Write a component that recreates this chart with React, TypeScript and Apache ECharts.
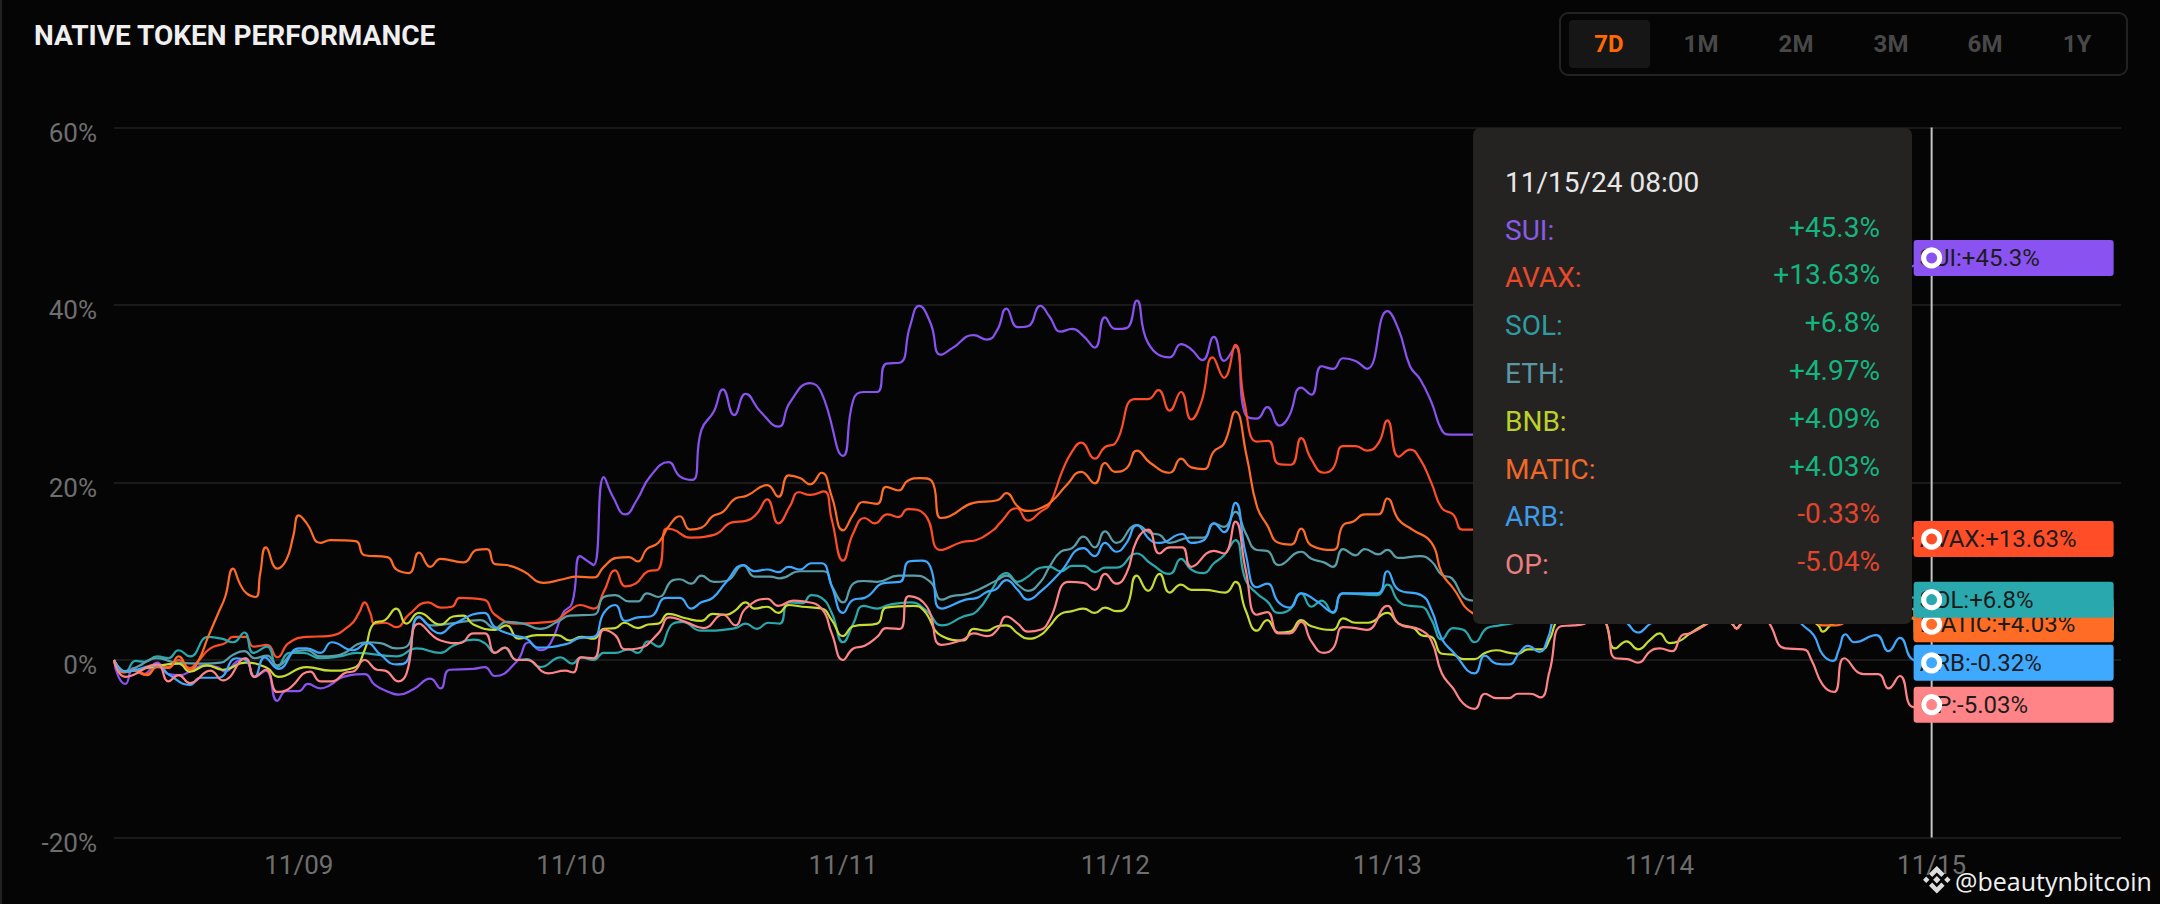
import React, { useEffect, useRef } from "react";
import * as echarts from "echarts";

// x = hours since the first sample (11/08 ~15:40), y = % performance
const SUI = [[0,0],[0.4,-1.9],[1,-2.7],[1.7,-0.9],[2.6,-1.6],[3.8,-0.3],[4.8,-1.6],[5.8,-1.7],[6.7,-1.3],[7.9,-0.6],[9.1,-0.8],[9.8,-1.3],[10.8,-0.2],[11.6,0.2],[12.4,-1.9],[13.4,-1.2],[14.4,-4.6],[15.2,-3.5],[16.3,-3.5],[17.1,-2.7],[18.2,-3.2],[19.1,-2.8],[20.2,-1.9],[22.1,-1.6],[23,-2.8],[24.4,-3.7],[25.1,-3.9],[26.4,-3.3],[27.9,-2.1],[28.8,-3.2],[29.6,-1.1],[31.7,-1],[32.7,-0.8],[33.6,-1.8],[35.5,-0.2],[36.6,2],[37.6,1.1],[38.5,1.9],[39.6,5.3],[40.4,6.4],[41.1,11.7],[41.7,11.2],[42.3,10.7],[43.2,20.6],[44,18.4],[45.1,16.4],[46.1,18],[47.3,20.7],[48.9,22.3],[49.9,20.7],[51,20.3],[51.8,25.9],[52.9,28],[53.7,30.5],[54.7,27.6],[55.7,30],[57,28],[58.6,26.3],[59.6,29],[61.4,31.2],[62.4,30.1],[64.3,23],[65.2,29.3],[66.1,30.2],[67.3,30.2],[68.1,33.4],[69.3,33.5],[70.2,37.6],[71,39.9],[72,38],[72.9,34.4],[74,35.2],[75.8,36.6],[77,36.1],[77.9,37.2],[78.7,39.6],[79.7,37.5],[80.6,37.6],[81.7,39.9],[82.5,38.7],[83.5,37],[84.5,37.3],[85.5,36.5],[86.5,35.2],[87.4,38.6],[88.3,37.3],[89.3,37.4],[90.2,40.5],[91.2,35.7],[93.1,34.1],[94.1,35.6],[95,35],[96,33.8],[97,36.4],[97.9,33.7],[98.9,35.3],[99.8,27.6],[100.8,27.2],[101.7,28.5],[102.8,26.4],[103.6,27.4],[104.7,30.7],[105.6,29.9],[106.5,33.1],[107.5,32.8],[108.4,34],[109.5,33.7],[110.5,32.8],[112.3,39.3],[113.3,37.2],[114.3,33.1],[115.2,31.6],[116.2,29],[117.1,25.9],[117.8,25.4],[119.8,25.4],[125,26],[135,28],[145,34],[155,42],[160.3,45.3]];
const AVAX = [[0,0],[0.8,-1.3],[1.7,-1.1],[2.9,-1.6],[3.8,-0.6],[4.8,-0.8],[5.7,0],[6.7,-0.9],[7.3,-0.3],[8.5,1.3],[9.8,1.9],[10.5,2.6],[11.6,2.6],[12.3,1.5],[13.5,1.7],[14.4,0.3],[15.4,1.9],[17,2.6],[18.9,2.7],[20.8,3.9],[21.6,5.3],[22.1,6.5],[22.6,5.3],[23,4.1],[23.9,4.2],[24.9,3.7],[26,5.1],[27.7,6.5],[28.8,5.9],[29.8,6],[30.5,7],[32.6,6.8],[33.6,5.1],[35.5,4.1],[38.5,4.3],[40.2,5.6],[41.1,6.2],[42.3,5.8],[43.2,7.7],[44.2,10.1],[45.1,8.3],[46,8.6],[47.1,10],[48,10.2],[48.7,14.8],[49.3,14.7],[50.8,13.8],[52.9,14.1],[54.5,15.5],[55.8,15.7],[56.7,16.5],[57.6,18.1],[58.6,15.4],[59.6,17.3],[60.4,18.9],[61.4,18.6],[62.6,19],[63.3,15.8],[64.3,11.2],[65.2,14.3],[66.2,16],[67.1,15.4],[68.2,16.4],[69.2,16.1],[70,17],[71.5,16.4],[72.9,12.4],[74.8,13.3],[76,13.5],[77.6,14.7],[78.1,15.4],[79.6,17.1],[80.6,15.7],[81.7,16.7],[82.5,17.5],[83.6,21.2],[84.5,23.5],[85.3,24.5],[86.5,22.7],[87.4,24],[88.3,24.4],[90,29.4],[91.2,29.4],[92.1,30.4],[93.1,28.1],[94.1,30.2],[95,27.1],[95.9,29.1],[96.9,34.1],[97.9,31.8],[98.9,35.5],[99.7,29],[100.8,24.6],[101.8,24.7],[102.7,22.1],[103.8,22],[104.7,25],[105.6,22.6],[106.7,21.1],[107.5,21.6],[108.4,24.1],[109.5,24.1],[110.5,23.6],[111.5,24.4],[112.3,27],[113.3,22.9],[114.3,23.7],[115.2,22.6],[116.2,19.9],[117.1,17.1],[118.1,16.4],[118.9,14.7],[119.8,14.7],[125,12],[135,13],[145,15],[155,14],[160.3,13.63]];
const SOL = [[0,0],[1,-1.3],[1.9,-0.1],[2.7,-0.2],[3.8,0.4],[4.8,0.2],[5.7,1.1],[6.7,0.4],[8.3,2.6],[9.5,2.4],[10.5,2],[11.5,3.1],[12.3,0.8],[13.5,1.5],[14.4,-0.8],[15.5,0.8],[16.7,0.8],[18.2,0.2],[19.9,0.4],[21.4,0.8],[24.9,0.4],[26.7,1.3],[28.8,0.8],[29.9,1.6],[31.7,2.3],[32.7,1.9],[33.6,0.8],[34.4,1.4],[35.5,0],[36.4,0.1],[37.6,-0.8],[39.4,0.3],[40.4,-0.4],[41.2,0.3],[42.3,0],[43.2,0.8],[44.2,0.8],[45.4,1.2],[46.2,0.8],[47.1,2.1],[48,1.5],[49.3,4.1],[50.1,4.3],[51.8,3.3],[54.8,3.6],[55.7,4.1],[56.7,3.5],[57.7,4.2],[58.7,4.1],[59.5,6.5],[60.7,6.4],[61.5,7.3],[62.4,7],[63.3,5.3],[64.3,2],[65.2,4.1],[66.1,6.1],[67.3,5.8],[68.3,6.2],[70.2,6.5],[71.7,5.5],[73,3.9],[74.9,4.9],[76.1,5.5],[77.6,8.3],[78.1,9.4],[78.7,9.8],[79.7,8.8],[80.6,9.4],[81.7,10.4],[82.5,10.5],[83.5,10],[84.5,10.6],[85.5,10.6],[86.5,9.9],[87.4,10.4],[88.4,10.4],[90.2,12],[91.4,10.9],[93.1,9.7],[94.1,11.4],[95,10.2],[96.1,9.8],[97,10.9],[97.9,11.8],[98.9,13.5],[99.8,9],[100.8,7.5],[101.7,6.6],[102.7,5.3],[103.6,5.6],[104.7,7.5],[105.6,6],[106.5,6.7],[107.5,5.3],[108.4,7.5],[111.4,7.3],[112.3,8.5],[113.3,6.6],[114.3,6.1],[115.3,6],[116.2,4.5],[117.1,2.3],[118.1,3.6],[119,3.4],[120,2],[121.1,3.6],[122.2,3.9],[123.1,4.1],[127,5],[129,9],[132,7],[140,7],[150,8],[155,7.5],[160.3,6.8]];
const ETH = [[0,0],[1,-1.3],[2,-0.8],[3.8,0.2],[5.5,-0.3],[7.9,-0.4],[9.4,-0.3],[10.5,0.6],[11.5,1],[12.4,0.2],[13.5,0.5],[14.4,-0.6],[16.1,1],[17,1.1],[18.2,0.4],[19.6,0.5],[22.3,2],[23.5,1.9],[24.9,1.3],[25.8,1.5],[26.9,4.9],[27.9,3.9],[29.6,4.1],[32.3,4.5],[33.6,3.6],[34.6,4.3],[36.1,4.1],[37.6,3.5],[39.1,4.3],[40.2,5],[42.3,5.1],[43.2,7.1],[44.2,7.3],[45.4,6.6],[46.2,6.6],[47,7.5],[48,7.1],[49.3,9],[49.9,9.1],[50.9,8.6],[51.8,9.5],[52.9,8.8],[54,8.9],[55.5,10.7],[56.5,9.4],[57.9,9.4],[58.7,9.2],[60.5,10],[62.6,10],[63.4,8.1],[64.3,6.5],[65.2,8.6],[66.1,8.9],[67.3,8.8],[69.2,9.5],[70.5,9.5],[72,8.8],[73,6.8],[73.9,7.2],[75.4,7.5],[77.9,9],[78.7,9.5],[79.7,8.5],[80.6,7.8],[81.7,8.8],[82.5,10.5],[83.5,12.2],[84.5,12.6],[85.5,13.9],[86.5,12.7],[87.4,14.5],[88.4,13.2],[90.2,15.2],[91.4,14.3],[92.2,14.1],[93.1,13.2],[94.9,13.8],[96.1,13.8],[97,15.4],[97.9,15],[98.9,16.7],[99.8,14.3],[100.8,12.4],[101.7,12.3],[102.7,10.7],[104.7,12.2],[105.6,11.4],[106.7,11],[107.5,10.5],[108.4,12.5],[109.5,11.8],[110.3,12.5],[111.5,11.9],[112.3,12.4],[113.3,11.5],[115.2,11.7],[116.2,11.1],[117.1,9.6],[118,9.2],[119,7.1],[119.8,6.7],[125,5.5],[127,6],[129,8],[132,6],[140,7],[150,6],[155,6.5],[160.3,4.97]];
const BNB = [[0,0],[1,-1.3],[2.9,-0.9],[5.7,-0.4],[6.7,-1.3],[8.2,-0.6],[9.6,-1.1],[11.6,-0.3],[13.5,-0.9],[14.5,-1.9],[17,-0.8],[19.1,-1.2],[21.1,-0.9],[22.1,1.1],[22.9,4.1],[23.9,4.5],[24.9,5.8],[25.8,4.1],[26.9,5.3],[28.8,4],[29.9,4.9],[30.8,5],[31.7,4],[33.6,3.4],[34.6,3.9],[35.7,2.4],[37.3,2.8],[39.1,2.8],[40.2,2.2],[41.2,2.6],[42.3,2.4],[43.2,3.5],[44.2,3.6],[45,4.2],[46.2,3.6],[47.1,4],[48,4.1],[48.9,5.2],[50.4,4.7],[51.8,4.4],[52.8,5.2],[54,5.1],[54.8,5.6],[55.7,6.5],[56.5,5.8],[57.6,6],[58.6,5.3],[59.5,6.2],[60.7,6],[62.4,5.8],[63.3,4.5],[64.3,2.7],[65.2,3.8],[67.3,4.1],[68.1,5.9],[70.5,6.1],[71.4,5.6],[73,2.7],[74.9,2.2],[75.8,3.5],[77,3.3],[77.9,3.8],[78.7,3.9],[79.7,3],[80.6,2.4],[81.7,2.8],[82.5,3.8],[83.5,5.2],[84.5,5.5],[85.5,5.8],[86.5,5.3],[87.4,5.9],[88.4,5.5],[89.3,6],[90.2,9.5],[91.2,7.8],[92.2,9.7],[93.1,7.6],[94.1,8.5],[95,7.9],[96.1,7.9],[98,7.6],[98.9,8.8],[99.8,5.6],[100.8,3.3],[101.7,4.5],[102.7,3.1],[103.7,3.2],[104.7,4.5],[105.6,3.8],[107.5,3.4],[108.4,4.7],[109.5,4.2],[110.6,4.2],[112.3,5.3],[113.3,4.1],[114.6,3.6],[115.3,2.8],[116.2,2.6],[117.1,0.7],[118.1,0.6],[119,0.1],[120,0.1],[120.9,0.8],[121.9,1.1],[123.1,0.8],[123.8,0.7],[124.7,1.2],[125.9,1.2],[126.6,2.3],[127.1,4.1],[128.5,8],[130.5,8],[131.6,4.1],[132.4,1.3],[133.4,2.1],[134.4,1.2],[135.5,2.3],[136.3,3],[137.2,1.9],[138,2.1],[139,3],[140.3,4],[142,5],[142.7,4.1],[143.1,3.6],[143.5,4.1],[146,6],[149,5],[150.3,3.9],[150.7,3.2],[151.6,4.1],[155,5],[158.6,4.7],[160.3,4.09]];
const MATIC = [[0,0],[0.8,-1.4],[1.7,-1.2],[2.9,-1.7],[3.8,-0.8],[4.8,-0.9],[5.7,0.4],[6.7,-1.1],[7.4,-0.2],[8.3,2.6],[9.2,5.3],[9.8,7.1],[10.5,10.3],[11.1,8.6],[11.7,7.5],[12.5,7.1],[12.9,9.8],[13.4,12.7],[14.4,10.3],[15.2,11.3],[15.8,13.9],[16.3,16.3],[17,15.4],[18.2,13.2],[19.1,13.5],[21.3,13.4],[22.1,11.8],[24.1,11.6],[24.9,10.2],[26,9.8],[26.9,12.1],[27.9,10.5],[28.8,11.4],[30.8,11],[32,12.4],[32.9,12.5],[33.6,10.8],[34.6,10.7],[36.1,10],[37.9,8.7],[39.6,9.1],[40.8,9.4],[42.3,9.3],[43.2,10.5],[44.3,11.5],[45.4,11.6],[46.2,11.1],[47,12.5],[48,13.2],[49,15.2],[49.9,16.2],[50.8,14.7],[51.8,14.9],[52.8,16.2],[53.7,16.7],[54.8,18.2],[55.8,18.5],[57.6,19.7],[58.6,18.4],[59.5,20.8],[60.5,20.5],[61.4,19.8],[62.4,21.1],[63.3,18.4],[64.3,14.6],[65.2,16.4],[66.1,17.8],[67.3,17.6],[68.1,19.5],[69.2,19.1],[70,20.2],[71.1,20.5],[72.1,20.2],[72.9,16],[73.7,16.2],[75.8,17.7],[77.9,18],[78.7,18.8],[79.7,17.3],[80.6,16.8],[81.7,17.1],[82.8,18],[84,19.7],[85.3,21.2],[86.5,19.9],[87.4,22.2],[88.3,21.2],[89.3,21.6],[90.2,23.6],[91.4,22.2],[93.1,21.1],[94.1,22.7],[95,21.7],[96.1,21.5],[97,23.5],[97.9,24.4],[98.9,28],[99.9,22.9],[100.8,17.3],[101.7,15.2],[102.7,13.2],[103.8,13],[104.7,14.8],[105.6,12.9],[107.5,12.4],[108.4,15.2],[109.3,15.6],[110.3,16.4],[111.5,16.4],[112.3,18.2],[113.3,15.8],[114.5,14.7],[116.2,13.2],[117.1,9.8],[118.1,8.1],[119.8,5.3],[122,4.6],[125,5.5],[127.5,9],[130.5,10],[132.5,6],[136,7],[140,6],[145,6.5],[149.5,5],[150.7,3.9],[151.9,3.9],[153.5,5],[156,5.5],[158.5,4.8],[160.3,4.03]];
const ARB = [[0,0],[1,-1.3],[3.8,-0.6],[4.9,-1.7],[6.7,-2.8],[7.6,-2],[9.2,-2],[10.8,0.2],[11.6,0],[12.4,-1.9],[13.3,0.3],[14.5,-1],[16.3,1.3],[17,1.3],[18.2,0.8],[19.2,2],[21.1,1.1],[22.3,1.9],[23.5,0.6],[24.9,-0.5],[25.8,-0.2],[26.9,4.8],[28.8,3],[29.9,4],[32.6,5.3],[33.6,3.7],[35.2,2.8],[36.4,2.4],[37.4,1.4],[39.9,1.8],[41.1,2.5],[42.3,2.6],[43.2,5.3],[44.2,6.2],[45.1,4.4],[46.2,4.8],[47.3,4.9],[48.7,7],[49.9,7],[50.9,5.8],[51.8,6.5],[52.8,7],[54,8.8],[55.5,10.7],[56.5,10],[57.6,10.2],[58.6,9.9],[59.5,10.5],[60.5,10.2],[61.5,10.9],[62.4,10.9],[63.3,8.3],[64.3,5.3],[65.2,6.8],[66.2,7],[68,8.7],[69.3,8.8],[70.1,11.1],[71.2,11.2],[72,10.5],[73,5.8],[75.1,6.8],[76.1,7],[77,7.7],[77.7,7.9],[78.7,9],[79.7,7.9],[80.6,6.8],[81.7,7.7],[83.4,9.8],[85.5,12.6],[86.5,11.7],[87.4,13.2],[88.4,12.2],[89.3,13.2],[90.2,15.2],[91.4,13.5],[92.2,13.2],[94.2,14.2],[95,13.2],[96.1,13.5],[97,15.4],[97.9,14.4],[98.9,17.7],[99.8,12],[100.8,8.2],[101.7,8.6],[102.7,6.5],[103.7,5.9],[104.7,7.5],[106.1,6.6],[107.5,5.4],[108.4,7.5],[111.4,7.5],[112.3,10],[113.3,7.9],[115.3,7.3],[116.2,5.6],[117.1,2.4],[118.1,0.9],[120,-1.5],[120.9,0.5],[121.9,-0.4],[123,-0.5],[124,0.9],[124.7,1.6],[125.7,0.9],[126.5,2.6],[126.8,4.1],[128,9],[130.5,8],[133.5,4.1],[134.4,3.1],[135.5,4.1],[137,5],[140,5.5],[144,5.5],[148,5.5],[148.8,4.1],[149.9,2.8],[150.7,0.6],[151.6,-0.1],[152.1,1.1],[152.7,2.9],[153.5,2],[155.4,2.8],[156.5,1],[157.5,2.5],[158.7,0],[160.3,-0.32]];
const OP = [[0,0],[1,-1.9],[3.8,-0.5],[4.8,-2.4],[5.7,-1.7],[6.7,-2.6],[8.5,-1.2],[9.6,-2.3],[11.6,0.2],[12.4,-1.9],[13.4,-1.1],[14.4,-3.6],[15.2,-3.4],[17.3,-1.3],[18.2,-2.4],[19.2,-2.4],[20.5,-1.4],[21.1,-1.3],[22.1,0],[23.2,-1.1],[23.9,-1.2],[25.1,-2.4],[25.8,-1.5],[26.9,4.1],[28.8,2.2],[30.5,1.9],[31.7,3],[32.7,3],[33.6,0.8],[34.5,1.4],[35.5,0],[36.4,0],[38.3,-1.5],[39.8,-1.2],[40.5,-1.4],[41.2,0.3],[42.3,0.2],[43.2,3.4],[44.2,2.8],[45.1,1.2],[46.2,1.3],[48,3],[49,4.8],[50.4,4.3],[52,3.6],[53.7,5.1],[54.8,3.9],[55.7,5.8],[57.6,6.9],[58.6,6.1],[59.9,6.7],[60.8,6.6],[62.4,5.8],[63.3,3],[64.3,0],[65.2,1.3],[66.2,1.6],[67.3,2.6],[68.1,3.6],[69.3,3.5],[70.1,7.2],[71.7,6],[73,1.7],[74.9,2.3],[75.8,3],[77,2.7],[77.9,3.4],[78.7,4.9],[79.7,4.1],[80.6,3.2],[81.7,3.4],[82.5,4.5],[84.2,8.8],[85.5,8.7],[86.5,7.9],[87.4,9.7],[88.4,8.6],[89.3,9.8],[90.2,13.5],[91.2,14.7],[92.2,12],[93.1,12.7],[94.2,12.7],[95,10.5],[97,12.3],[97.9,12],[98.9,15.6],[99.8,10.2],[100.8,5.1],[101.7,5.4],[102.7,3],[103.7,3],[104.7,4.3],[105.6,2.1],[106.7,0.8],[107.5,1.3],[108.4,3.7],[109.5,3.6],[110.5,3.4],[112.3,6.1],[113.3,4.1],[115.2,3.4],[116.2,2.1],[117.1,-1.5],[118.1,-3.2],[119,-4.9],[120,-5.5],[120.9,-3.8],[121.9,-4.3],[123,-4.3],[123.8,-3.8],[124.9,-3.8],[125.8,-4.2],[126.6,-1.3],[127.6,3.8],[128.7,3.9],[129.7,4.1],[130.7,5],[131.6,4.1],[132.4,0.2],[133.5,0.1],[134.4,-0.3],[135.5,1],[136.3,1.3],[137.4,1],[138.3,2.8],[139,3],[140.3,3.9],[141.5,4.8],[142.7,4.1],[143.1,3.5],[143.5,4.1],[145,6],[146,4.1],[147.4,1.3],[149,1.2],[149.7,0],[150.7,-2.8],[151.7,-3.6],[152.6,0.2],[154.3,-1.6],[155.6,-1.6],[156.5,-3.2],[157.5,-1.8],[158.7,-5.3],[160.3,-5.03]];

const TOKENS = ["SUI", "AVAX", "SOL", "ETH", "BNB", "MATIC", "ARB", "OP"];
const TOKEN_DATA = [SUI, AVAX, SOL, ETH, BNB, MATIC, ARB, OP];
const COLORS = ["#8A52F0", "#FF4D28", "#29A9AE", "#5B9EA8", "#C6DC32", "#FF6C26", "#3FA9FF", "#FF8488"];
const TIP_COLORS = ["#8A5BE6", "#E8492A", "#2F9CA2", "#5A98A4", "#BCD02E", "#F0682A", "#3F9AE8", "#E87F80"];
const TIP_VALUES = ["+45.3%", "+13.63%", "+6.8%", "+4.97%", "+4.09%", "+4.03%", "-0.33%", "-5.04%"];
const END_VALUES = [45.3, 13.63, 6.8, 4.97, 4.09, 4.03, -0.32, -5.03];
const END_LABELS = ["+45.3%", "+13.63%", "+6.8%", "+4.97%", "+4.09%", "+4.03%", "-0.32%", "-5.03%"];
const STACK_ORDER = ["SUI", "AVAX", "ETH", "BNB", "MATIC", "SOL", "ARB", "OP"];
const COVERED_LABELS = ["ETH", "BNB"];
const END_HOUR = 160.3;
const X_MAX = 177;
const X_TICK_HOURS = [16.3, 40.3, 64.3, 88.3, 112.3, 136.3, 160.3];
const X_TICK_LABELS = ["11/09", "11/10", "11/11", "11/12", "11/13", "11/14", "11/15"];
const RANGES = ["7D", "1M", "2M", "3M", "6M", "1Y"];
const RANGE_X = [1609, 1701, 1796, 1891, 1985, 2077];
const TIP_TIME = "11/15/24 08:00";

const FONT = "Roboto";
const LABEL_BOX = "path://M3 0H197A3 3 0 0 1 200 3V33A3 3 0 0 1 197 36H3A3 3 0 0 1 0 33V3A3 3 0 0 1 3 0Z";

echarts.graphic.registerShape(
  "bnbLogo",
  echarts.graphic.extendPath(
    "M0 15L3.5 11.5L7 15L3.5 18.5ZM23 15L26.5 11.5L30 15L26.5 18.5ZM11 15L15 11L19 15L15 19ZM15 0L23.5 8.5L20 12L15 7L10 12L6.5 8.5ZM15 30L23.5 21.5L20 18L15 23L10 18L6.5 21.5Z",
    {}
  )
);

function txt(text: string, x: number, y: number, fill: string, fontSize: number, extra: any = {}) {
  return {
    type: "text",
    z: 100,
    silent: true,
    style: { text, x, y, fill, fontSize, fontFamily: FONT, textVerticalAlign: "middle", ...extra },
  };
}

function buildGraphic() {
  const els: any[] = [
    { type: "rect", z: 90, silent: true, shape: { x: 0, y: 0, width: 2, height: 904 }, style: { fill: "#222222" } },
    txt("NATIVE TOKEN PERFORMANCE", 34, 35, "#F0EFF0", 28, { fontWeight: 700 }),
    { type: "rect", z: 90, silent: true, shape: { x: 1560, y: 13, width: 567, height: 62, r: 8 }, style: { fill: "transparent", stroke: "#222222", lineWidth: 2 } },
    { type: "rect", z: 91, silent: true, shape: { x: 1569, y: 20, width: 81, height: 48, r: 4 }, style: { fill: "#161616" } },
    { type: "rect", z: 95, silent: true, shape: { x: 1473, y: 128, width: 439, height: 496, r: 7 }, style: { fill: "#242322" } },
    txt(TIP_TIME, 1505, 182, "#E8E8E8", 28),
    { type: "bnbLogo", z: 100, silent: true, x: 1923, y: 866, scaleX: 0.92, scaleY: 0.92, style: { fill: "#DDDDDD" } },
    txt("@beautynbitcoin", 1955, 881, "#F0F0F0", 25, { fontFamily: "Open Sans" }),
  ];
  RANGES.forEach((r, i) => {
    els.push(
      txt(r, RANGE_X[i], 44, i === 0 ? "#FF6A00" : "#484848", 24, { fontWeight: 700, textAlign: "center" })
    );
  });
  TOKENS.forEach((t, i) => {
    const rowY = 230 + i * 47.8;
    els.push(txt(t + ":", 1505, rowY, TIP_COLORS[i], 28));
    els.push(
      txt(TIP_VALUES[i], 1880, rowY - 3, TIP_VALUES[i].startsWith("+") ? "#14B57F" : "#E0452D", 28, { textAlign: "right" })
    );
  });
  return els;
}

function buildSeries() {
  const series: any[] = TOKENS.map((t, i) => ({
    name: t,
    type: "line",
    data: TOKEN_DATA[i],
    smooth: 0.5,
    showSymbol: false,
    symbol: "none",
    silent: true,
    z: 3,
    lineStyle: { color: COLORS[i], width: 2.2 },
  }));
  series.push({
    name: "cursor",
    type: "line",
    data: [[END_HOUR, -20], [END_HOUR, 60]],
    showSymbol: false,
    symbol: "none",
    silent: true,
    z: 4,
    lineStyle: { color: "#C4C4C4", width: 2 },
  });
  STACK_ORDER.forEach((t, k) => {
    const i = TOKENS.indexOf(t);
    series.push({
      name: t + " label",
      type: "scatter",
      silent: true,
      clip: false,
      z: 10 + k * 2,
      data: [[END_HOUR, END_VALUES[i]]],
      symbol: LABEL_BOX,
      symbolKeepAspect: false,
      symbolSize: [200, 36],
      symbolOffset: [82, 0],
      itemStyle: { color: COLORS[i], opacity: 1 },
      label: {
        show: !COVERED_LABELS.includes(t),
        position: "insideLeft",
        distance: 6,
        formatter: t + ":" + END_LABELS[i],
        color: "#1C1C1C",
        fontSize: 24,
        fontFamily: FONT,
      },
    });
    series.push({
      name: t + " point",
      type: "scatter",
      silent: true,
      clip: false,
      z: 11 + k * 2,
      data: [[END_HOUR, END_VALUES[i]]],
      symbol: "circle",
      symbolSize: 16,
      itemStyle: { color: COLORS[i], borderColor: "#FFFFFF", borderWidth: 5, opacity: 1 },
    });
  });
  return series;
}

export default function App() {
  const ref = useRef<HTMLDivElement>(null);
  useEffect(() => {
    document.body.style.margin = "0";
    document.body.style.background = "#050505";
    const chart = echarts.init(ref.current!, undefined, { renderer: "svg" });
    chart.setOption({
      animation: false,
      backgroundColor: "#050505",
      grid: { left: 114, right: 39, top: 127.5, bottom: 66.5, containLabel: false },
      xAxis: {
        type: "value",
        min: 0,
        max: X_MAX,
        axisLine: { show: false },
        axisTick: { show: false },
        splitLine: { show: false },
        axisLabel: {
          customValues: X_TICK_HOURS,
          formatter: (v: number) => X_TICK_LABELS[X_TICK_HOURS.indexOf(v)] ?? "",
          color: "#6E6E6E",
          fontSize: 26,
          fontFamily: FONT,
          margin: 14,
          showMinLabel: true,
          showMaxLabel: true,
        },
      },
      yAxis: {
        type: "value",
        min: -20,
        max: 60,
        interval: 20,
        axisLine: { show: false },
        axisTick: { show: false },
        splitLine: { show: true, lineStyle: { color: "#1A1A1A", width: 2 } },
        axisLabel: {
          formatter: "{value}%",
          color: "#6E6E6E",
          fontSize: 26,
          fontFamily: FONT,
          margin: 17,
          verticalAlign: "top",
          lineHeight: 10,
        },
      },
      tooltip: { show: false },
      legend: { show: false },
      series: buildSeries(),
      graphic: { elements: buildGraphic() },
    });
    return () => chart.dispose();
  }, []);
  return <div ref={ref} style={{ width: 2160, height: 904 }} />;
}
